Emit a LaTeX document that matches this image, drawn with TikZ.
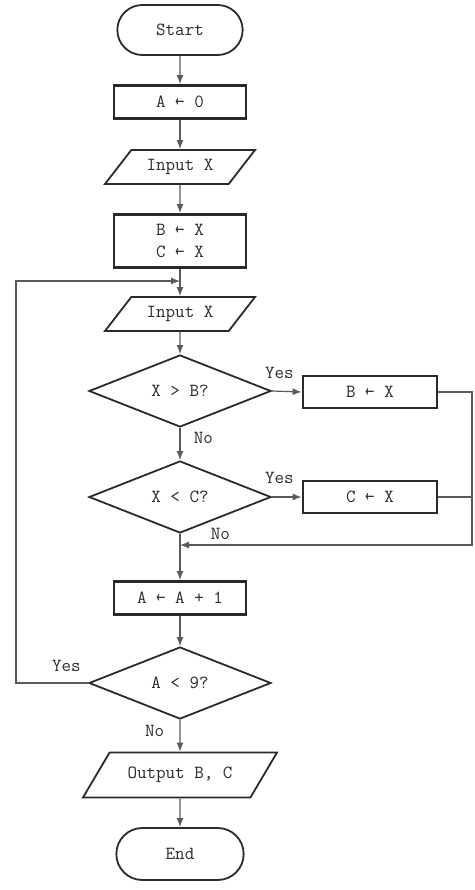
\documentclass[tikz,border=0pt]{standalone}
\usepackage{fontspec}
\usetikzlibrary{shapes.geometric,shapes.misc,arrows.meta}
\definecolor{ink}{HTML}{2A2A2A}
\definecolor{wire}{HTML}{5A5A5A}

\begin{document}
\begin{tikzpicture}[x=1pt, y=-1pt,
  every node/.style={font=\ttfamily\fontsize{18.5}{22}\selectfont, text=ink},
  term/.style={rounded rectangle, draw=ink, line width=1.8pt, minimum width=132pt, minimum height=50pt},
  proc/.style={rectangle, draw=ink, line width=2.8pt, minimum width=132pt, minimum height=33pt, align=center},
  io/.style={trapezium, trapezium left angle=40, trapezium right angle=140, trapezium stretches body, draw=ink, line width=1.8pt, minimum width=150pt, minimum height=34pt},
  dec/.style={diamond, aspect=2.5, draw=ink, line width=1.8pt, minimum width=182pt, minimum height=72pt, inner sep=0pt},
  flow/.style={-{Latex[length=9pt, width=7pt]}, line width=1.2pt, draw=wire},
  line/.style={line width=1.2pt, draw=wire}
]
  \useasboundingbox (0,0) rectangle (474,890);
  % main column
  \node[term] (start) at (180,30) {Start};
  \node[proc] (a0) at (180,102) {A ← 0};
  \node[io] (in1) at (180,167) {Input X};
  \node[proc, minimum height=53pt] (bc) at (180,241) {B ← X\\C ← X};
  \node[io] (in2) at (180,314) {Input X};
  \node[dec] (d1) at (180,391) {X > B?};
  \node[dec] (d2) at (180,497) {X < C?};
  \node[proc] (inc) at (180,598) {A ← A + 1};
  \node[dec] (d3) at (180,683) {A < 9?};
  \node[io, minimum width=194pt, minimum height=45pt] (out) at (180,775) {Output B, C};
  \node[term, minimum width=134pt, minimum height=52pt] (end) at (180,854) {End};
  % side boxes
  \node[proc, minimum width=134pt, minimum height=32pt] (bx) at (370,392) {B ← X};
  \node[proc, minimum width=134pt, minimum height=32pt] (cx) at (370,497) {C ← X};
  % joints
  \coordinate (j1) at (180,545);
  \coordinate (j2) at (180,281);
  \coordinate (r1) at (472,545);
  \coordinate (l1) at (16,281);

  \draw[flow] (start) -- (a0);
  \draw[flow] (a0) -- (in1);
  \draw[flow] (in1) -- (bc);
  \draw[flow] (bc) -- (in2);
  \draw[flow] (in2) -- (d1);
  \draw[flow] (d1.east) -- node[pos=0.25, above=9pt]{Yes} (bx.west);
  \draw[flow] (d1.south) -- node[pos=0.3, right=10pt]{No} (d2.north);
  \draw[flow] (d2.east) -- node[pos=0.25, above=9pt]{Yes} (cx.west);
  \draw[flow] (d2.south) -- node[pos=0, right=27pt]{No} (inc.north);
  \draw[flow] (bx.east) -| (r1) -- (j1);
  \draw[line] (cx.east) -- (cx.east -| r1);
  \draw[flow] (inc) -- (d3);
  \draw[flow] (d3.south) -- node[pos=0.36, left=12pt]{No} (out.north);
  \draw[flow] (d3.west) -| node[pos=0.15, above=7pt]{Yes} (l1) -- (j2);
  \draw[flow] (out) -- (end);
\end{tikzpicture}
\end{document}
